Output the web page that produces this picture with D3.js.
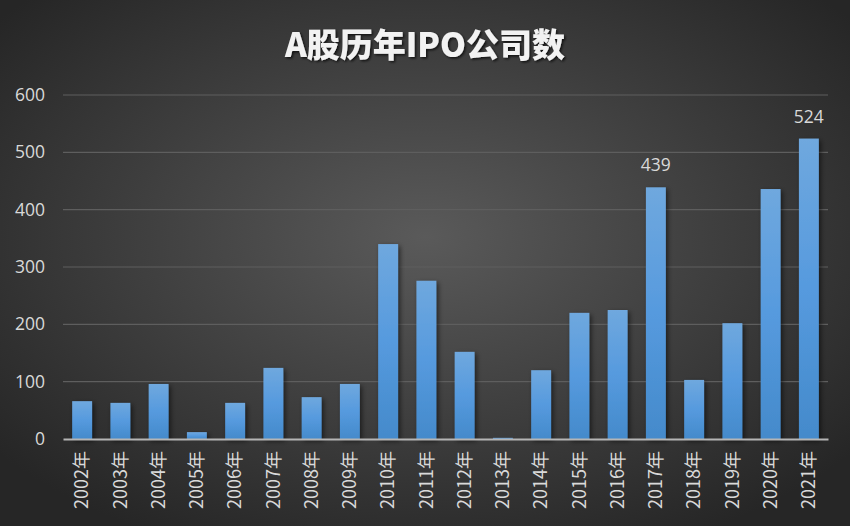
<!DOCTYPE html>
<html lang="zh">
<head>
<meta charset="UTF-8"/>
<title>A股历年IPO公司数</title>
<script src="https://d3js.org/d3.v7.js"></script>
<style>
  body { margin: 0; background: #333; }
  svg { display: block; }
</style>
</head>
<body>
<div id="chart"></div>
<script>
// data
const years = ["2002年","2003年","2004年","2005年","2006年","2007年","2008年","2009年","2010年","2011年",
               "2012年","2013年","2014年","2015年","2016年","2017年","2018年","2019年","2020年","2021年"];
const ipoCounts = [66, 63, 96, 12, 63, 124, 73, 96, 340, 276,
                   152, 2, 120, 220, 225, 439, 103, 202, 436, 524];
const labelled = ["2017年", "2021年"];
const yTicks = [0, 100, 200, 300, 400, 500, 600];

const W = 850, H = 526;
const margin = {top: 95, right: 22, bottom: 87, left: 63};
const width = W - margin.left - margin.right,
      height = H - margin.top - margin.bottom;

const root = d3.select("#chart").append("svg")
  .attr("width", W).attr("height", H);

const defs = root.append("defs");

// radial background
const bg = defs.append("radialGradient").attr("id", "bg")
  .attr("cx", "50%").attr("cy", "45%").attr("r", "65%");
bg.append("stop").attr("offset", "0%").attr("stop-color", "#5a5a5a");
bg.append("stop").attr("offset", "100%").attr("stop-color", "#262626");

// bar fill
const barGrad = defs.append("linearGradient").attr("id", "barFill")
  .attr("x1", 0).attr("y1", 0).attr("x2", 0).attr("y2", 1);
barGrad.append("stop").attr("offset", "0%").attr("stop-color", "#6fa8de");
barGrad.append("stop").attr("offset", "50%").attr("stop-color", "#569ade");
barGrad.append("stop").attr("offset", "100%").attr("stop-color", "#448acb");

const shadow = defs.append("filter").attr("id", "shadow")
  .attr("x", "-30%").attr("y", "-10%").attr("width", "170%").attr("height", "130%");
shadow.append("feDropShadow").attr("dx", 2).attr("dy", 2).attr("stdDeviation", 2.5)
  .attr("flood-color", "#000").attr("flood-opacity", 0.55);

const tShadow = defs.append("filter").attr("id", "tshadow");
tShadow.append("feDropShadow").attr("dx", 1.5).attr("dy", 1.5).attr("stdDeviation", 1.2)
  .attr("flood-color", "#000").attr("flood-opacity", 0.7);

root.append("rect").attr("width", W).attr("height", H).attr("fill", "url(#bg)");

// title
root.append("text")
  .attr("x", W / 2).attr("y", 57)
  .attr("text-anchor", "middle")
  .attr("fill", "#f2f2f2")
  .attr("font-family", "'Noto Sans CJK SC', sans-serif")
  .attr("font-weight", "900")
  .attr("font-size", 33)
  .attr("filter", "url(#tshadow)")
  .text("A股历年IPO公司数");

const svg = root.append("g")
  .attr("transform", `translate(${margin.left},${margin.top})`);

const x = d3.scaleBand()
  .domain(years)
  .range([0, width])
  .paddingInner(0.48)
  .paddingOuter(0.24);

const y = d3.scaleLinear()
  .domain([0, 600])
  .range([height, 0]);

// gridlines
svg.append("g")
  .selectAll("line")
  .data(yTicks.filter(d => d > 0))
  .join("line")
    .attr("x1", 0).attr("x2", width)
    .attr("y1", d => y(d)).attr("y2", d => y(d))
    .attr("stroke", "#5e5e5e").attr("stroke-width", 1.2);

// y axis labels
const yAxis = svg.append("g")
  .call(d3.axisLeft(y).tickValues(yTicks).tickSize(0).tickPadding(18));
yAxis.select(".domain").remove();
yAxis.selectAll("text")
  .attr("fill", "#d9d9d9")
  .attr("font-family", "'Open Sans', sans-serif")
  .attr("font-size", 17.5);

// bars
svg.append("g")
  .selectAll("rect")
  .data(years.map((yr, i) => ({year: yr, value: ipoCounts[i]})))
  .join("rect")
    .attr("x", d => x(d.year))
    .attr("y", d => y(d.value))
    .attr("width", x.bandwidth())
    .attr("height", d => height - y(d.value))
    .attr("fill", "url(#barFill)")
    .attr("filter", "url(#shadow)");

// data labels
svg.append("g")
  .selectAll("text")
  .data(years.map((yr, i) => ({year: yr, value: ipoCounts[i]})).filter(d => labelled.includes(d.year)))
  .join("text")
    .attr("x", d => x(d.year) + x.bandwidth() / 2)
    .attr("y", d => y(d.value) - 16)
    .attr("text-anchor", "middle")
    .attr("fill", "#d9d9d9")
    .attr("font-family", "'Open Sans', sans-serif")
    .attr("font-size", 17.5)
    .text(d => d.value);

// x axis
const xAxis = svg.append("g")
  .attr("transform", `translate(0,${height})`)
  .call(d3.axisBottom(x).tickSize(0).tickPadding(0));
xAxis.select(".domain").attr("stroke", "#b5b5b5").attr("stroke-width", 2);
xAxis.selectAll("text")
  .attr("fill", "#d9d9d9")
  .attr("font-family", "'Noto Sans CJK SC', sans-serif")
  .attr("font-size", 18)
  .attr("text-anchor", "end")
  .attr("dy", "0.35em")
  .attr("transform", "translate(0,12) rotate(-90)");
</script>
</body>
</html>
